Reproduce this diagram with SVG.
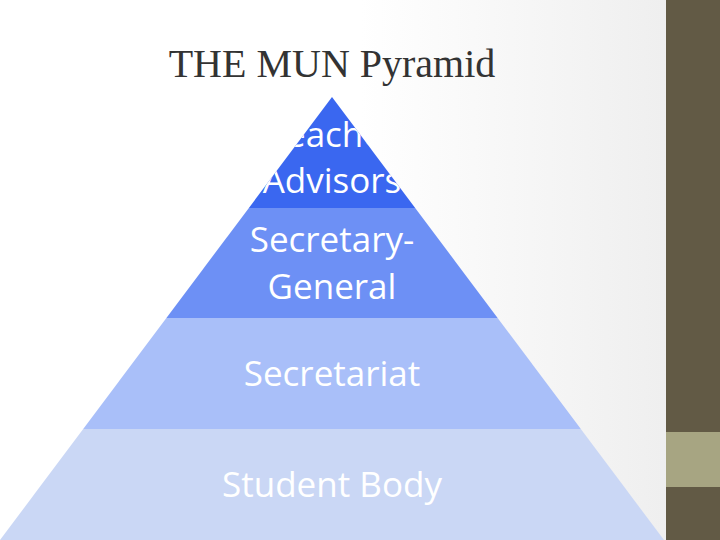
<svg xmlns="http://www.w3.org/2000/svg" width="720" height="540" viewBox="0 0 720 540">
<defs>
<linearGradient id="bg" x1="0" y1="0" x2="1" y2="0"><stop offset="0.5" stop-color="#ffffff"/><stop offset="1" stop-color="#ececec"/></linearGradient>
<clipPath id="tri"><polygon points="332,97 0,540 664,540"/></clipPath>
<style>.t{font-family:"Open Sans","Liberation Sans",sans-serif;font-size:35px;fill:#fff;text-anchor:middle}</style>
</defs>
<rect width="720" height="540" fill="url(#bg)"/>
<rect x="666" y="0" width="54" height="540" fill="#625a45"/>
<rect x="666" y="432" width="54" height="55" fill="#a7a582"/>
<text x="332" y="77" font-family="Liberation Serif,serif" font-size="40" fill="#333" text-anchor="middle">THE MUN Pyramid</text>
<g clip-path="url(#tri)">
<g id="n1"><rect x="0" y="97" width="664" height="111" fill="#3a67f0"/><text class="t" x="332" y="147">Teacher</text><text class="t" x="332" y="193">Advisors</text></g>
<g id="n2"><rect x="0" y="208" width="664" height="110" fill="#6d90f5"/><text class="t" x="332" y="252">Secretary-</text><text class="t" x="332" y="299">General</text></g>
<g id="n3"><rect x="0" y="318" width="664" height="111" fill="#a9bff9"/><text class="t" x="332" y="386">Secretariat</text></g>
<g id="n4"><rect x="0" y="429" width="664" height="111" fill="#cad7f5"/><text class="t" x="332" y="497">Student Body</text></g>
</g>
<g id="connectors"/>
</svg>
